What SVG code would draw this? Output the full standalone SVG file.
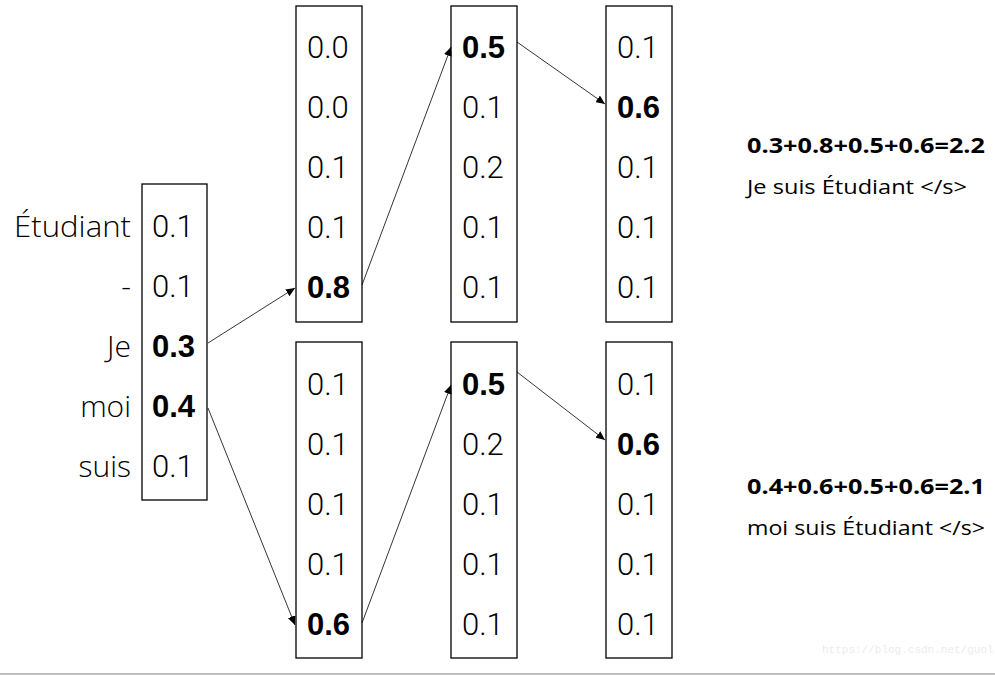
<svg xmlns="http://www.w3.org/2000/svg" width="995" height="675" viewBox="0 0 995 675">
<defs>
<style>
.box{fill:#fff;stroke:#000;stroke-width:1.3}
.n{font-family:Roboto,"Liberation Sans",Arial,sans-serif;font-weight:300;font-size:31px;fill:#000}
.b{font-family:"Liberation Sans",Arial,sans-serif;font-weight:bold;font-size:31px}
.lbl{font-family:"Open Sans","Noto Sans",sans-serif;font-weight:300;font-size:30px;fill:#000;text-anchor:end}
.sum{font-family:"Open Sans","Noto Sans",sans-serif;font-weight:bold;font-size:22px;fill:#000}
.seq{font-family:"Open Sans","Noto Sans",sans-serif;font-size:20px;fill:#000}
.wm{font-family:"Liberation Mono","DejaVu Sans Mono",monospace;font-size:11px;fill:#ececec}
.c{stroke:#000;stroke-width:0.8;fill:none;marker-end:url(#ah)}
</style>
<marker id="ah" markerUnits="userSpaceOnUse" markerWidth="10" markerHeight="8" refX="9" refY="4" orient="auto">
<path d="M0,0 L9,4 L0,8 Z" fill="#000"/>
</marker>
</defs>
<rect width="995" height="675" fill="#fff"/>

<g id="input">
<rect class="box" x="142" y="184" width="65" height="316"/>
<text class="lbl" x="131" y="237" textLength="117" lengthAdjust="spacingAndGlyphs">Étudiant</text>
<text class="lbl" x="131" y="297">-</text>
<text class="lbl" x="131" y="357">Je</text>
<text class="lbl" x="131" y="417">moi</text>
<text class="lbl" x="131" y="477">suis</text>
<text class="n" x="152" y="237">0.1</text>
<text class="n" x="152" y="297">0.1</text>
<text class="n b" x="152" y="357">0.3</text>
<text class="n b" x="152" y="417">0.4</text>
<text class="n" x="152" y="477">0.1</text>
</g>

<g id="top1">
<rect class="box" x="296" y="6" width="66" height="316"/>
<text class="n" x="307" y="58">0.0</text>
<text class="n" x="307" y="118">0.0</text>
<text class="n" x="307" y="178">0.1</text>
<text class="n" x="307" y="238">0.1</text>
<text class="n b" x="307" y="298">0.8</text>
</g>
<g id="top2">
<rect class="box" x="451" y="6" width="66" height="316"/>
<text class="n b" x="462" y="58">0.5</text>
<text class="n" x="462" y="118">0.1</text>
<text class="n" x="462" y="178">0.2</text>
<text class="n" x="462" y="238">0.1</text>
<text class="n" x="462" y="298">0.1</text>
</g>
<g id="top3">
<rect class="box" x="606" y="6" width="66" height="316"/>
<text class="n" x="617" y="58">0.1</text>
<text class="n b" x="617" y="118">0.6</text>
<text class="n" x="617" y="178">0.1</text>
<text class="n" x="617" y="238">0.1</text>
<text class="n" x="617" y="298">0.1</text>
</g>

<g id="bot1">
<rect class="box" x="296" y="342" width="66" height="316"/>
<text class="n" x="307" y="395">0.1</text>
<text class="n" x="307" y="455">0.1</text>
<text class="n" x="307" y="515">0.1</text>
<text class="n" x="307" y="575">0.1</text>
<text class="n b" x="307" y="635">0.6</text>
</g>
<g id="bot2">
<rect class="box" x="451" y="342" width="66" height="316"/>
<text class="n b" x="462" y="395">0.5</text>
<text class="n" x="462" y="455">0.2</text>
<text class="n" x="462" y="515">0.1</text>
<text class="n" x="462" y="575">0.1</text>
<text class="n" x="462" y="635">0.1</text>
</g>
<g id="bot3">
<rect class="box" x="606" y="342" width="66" height="316"/>
<text class="n" x="617" y="395">0.1</text>
<text class="n b" x="617" y="455">0.6</text>
<text class="n" x="617" y="515">0.1</text>
<text class="n" x="617" y="575">0.1</text>
<text class="n" x="617" y="635">0.1</text>
</g>

<g id="connectors">
<line class="c" x1="208" y1="343" x2="295" y2="288"/>
<line class="c" x1="208" y1="408" x2="295" y2="625"/>
<line class="c" x1="362" y1="285" x2="451" y2="47"/>
<line class="c" x1="517" y1="42" x2="605" y2="104"/>
<line class="c" x1="362" y1="623" x2="451" y2="385"/>
<line class="c" x1="517" y1="372" x2="605" y2="440"/>
</g>

<g id="result1">
<text class="sum" x="747" y="153" textLength="238" lengthAdjust="spacingAndGlyphs">0.3+0.8+0.5+0.6=2.2</text>
<text class="seq" x="747" y="194" textLength="220" lengthAdjust="spacingAndGlyphs">Je suis Étudiant &lt;/s&gt;</text>
</g>
<g id="result2">
<text class="sum" x="747" y="494" textLength="238" lengthAdjust="spacingAndGlyphs">0.4+0.6+0.5+0.6=2.1</text>
<text class="seq" x="747" y="535" textLength="238" lengthAdjust="spacingAndGlyphs">moi suis Étudiant &lt;/s&gt;</text>
</g>

<text class="wm" x="822" y="653">https://blog.csdn.net/guol</text>
<line x1="0" y1="674" x2="995" y2="674" stroke="#aaa" stroke-width="1.5"/>
</svg>
